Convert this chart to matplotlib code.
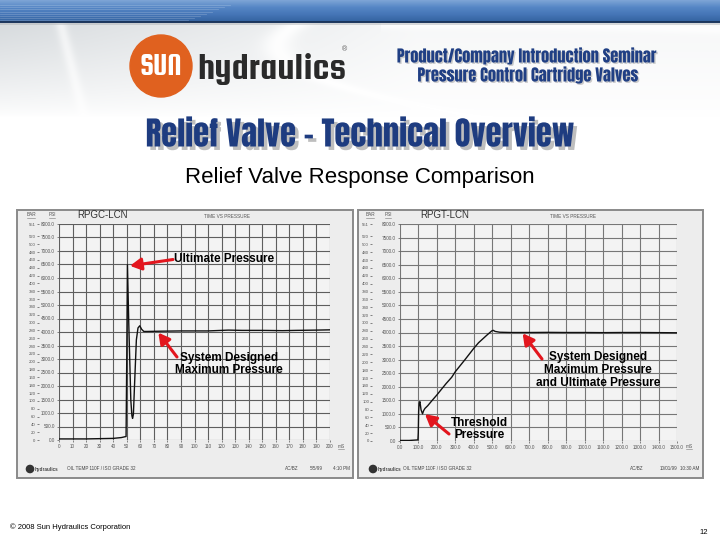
import numpy as np
import matplotlib
matplotlib.use('Agg')
import matplotlib.pyplot as plt
from matplotlib.colors import LinearSegmentedColormap
from matplotlib.patches import Circle, Rectangle
import matplotlib.patheffects as pe

plt.rcParams['font.family'] = ['Liberation Sans', 'DejaVu Sans']

# ---------------- data ----------------
left_time = [0, 20, 40, 46, 49.5, 50.0, 50.5, 51.5, 53.0, 53.8, 54.3, 54.9, 55.8, 57.1, 58.3,
             59.6, 61.0, 62.6, 65, 75, 90, 110, 125, 135, 150, 165, 175, 190, 200]
left_psi = [40, 40, 60, 90, 130, 3000, 6490, 4300, 1480, 900, 800, 950, 2100, 3710, 4150,
            4230, 4100, 4020, 4020, 4030, 4040, 4040, 4070, 4060, 4060, 4050, 4060, 4070, 4080]

right_time = [0, 50, 97, 99, 101, 104, 108, 114, 122, 128, 135, 150, 172, 200, 226, 250, 280, 300,
              352, 400, 425, 470, 497, 505, 515, 540, 600, 700, 800, 900, 1000, 1100, 1200, 1300,
              1400, 1500]
right_psi = [20, 20, 40, 300, 1100, 1400, 1450, 1150, 1000, 1120, 1200, 1300, 1480, 1700, 1920, 2120,
             2350, 2560, 3000, 3420, 3620, 3900, 4060, 4080, 4040, 4010, 4000, 4000, 4005, 4000, 4000,
             3995, 4000, 4000, 3995, 3990]

psi_ticks = list(range(0, 8001, 500))
psi_labels = [f"{v:.1f}" for v in psi_ticks]
bar_ticks = [0, 20, 40, 60, 80, 100, 120, 140, 160, 180, 200, 220, 240, 260, 280, 300, 320, 340,
             360, 380, 400, 420, 440, 460, 480, 500, 520, 551]
bar_labels = [str(b) for b in bar_ticks]
left_xticks = list(range(0, 201, 10))
left_xlabels = [str(v) for v in left_xticks]
right_xticks = list(range(0, 1501, 100))
right_xlabels = [f"{v:.1f}" for v in right_xticks]

PSI_PER_BAR = 14.5038

# ---------------- figure ----------------
fig = plt.figure(figsize=(7.2, 5.4), dpi=100)
bg = fig.add_axes([0, 0, 1, 1], zorder=0)
bg.set_xlim(0, 720)
bg.set_ylim(540, 0)
bg.axis('off')

# soft gray swoosh background at top
H, W = 120, 720
yy, xx = np.mgrid[0:H, 0:W]
alpha = np.clip(1 - (yy - 22) / 95.0, 0, 1) ** 0.8 * np.clip(1 - xx / 520.0, 0.2, 1)
band1 = np.exp(-((xx - (300 - 1.9 * (yy - 22) + 0.04 * (yy - 22) ** 2)) / 16.0) ** 2)
band2 = np.exp(-((xx - (60 + 0.25 * (yy - 22))) / 6.0) ** 2)
band3 = np.exp(-((yy - (24 + 0.00006 * (xx - 420) ** 2)) / 5.0) ** 2) * (xx > 380)
alpha = alpha * (1 - 0.9 * band1) * (1 - 0.6 * band2) * (1 - 0.7 * band3)
rgba = np.zeros((H, W, 4))
rgba[..., 0] = 0.84
rgba[..., 1] = 0.855
rgba[..., 2] = 0.87
rgba[..., 3] = np.clip(alpha, 0, 1)
bg.imshow(rgba, extent=(0, 720, H, 0), aspect='auto', zorder=0.5, interpolation='bilinear')

# blue top bar
cmap_bar = LinearSegmentedColormap.from_list('bar', ['#7ea5d6', '#5586c5', '#4575b6', '#33629f'])
bg.imshow(np.linspace(0, 1, 60).reshape(-1, 1), cmap=cmap_bar, extent=(0, 720, 22, 0),
          aspect='auto', zorder=1)
for i, y in enumerate(np.arange(5, 21, 2.2)):
    bg.plot([0, 230 - i * 6], [y, y], color='white', alpha=0.2, lw=0.6, zorder=1.1)
bg.plot([0, 720], [22.3, 22.3], color='#1b355c', lw=1.4, zorder=1.2)
bg.plot([0, 720], [24, 24], color='#b0b4b8', lw=1.2, alpha=0.6, zorder=1.2)

# logo
bg.add_patch(Circle((161, 66), 31, color='#e0611f', zorder=2))
bg.text(161, 67, 'SUN', color='white', family=['Squada One', 'DejaVu Sans'], fontsize=22,
        ha='center', va='center', zorder=3)
bg.text(197, 79, 'hydraulics', color='#2a2a2a', family=['Squada One', 'DejaVu Sans'], fontsize=27.5,
        ha='left', va='baseline', zorder=3)
bg.text(344, 50, '®', color='#555555', fontsize=5, ha='center', va='center', zorder=3)

# header texts
shadow_small = [pe.SimplePatchShadow(offset=(1, -1), shadow_rgbFace='#9a9a9a', alpha=0.5), pe.Normal()]
bg.text(527, 56, 'Product/Company Introduction Seminar', family=['Anton', 'DejaVu Sans'],
        fontsize=11.8, color='#203f84', ha='center', va='center', path_effects=shadow_small, zorder=3)
bg.text(528, 75, 'Pressure Control Cartridge Valves', family=['Anton', 'DejaVu Sans'],
        fontsize=11.8, color='#203f84', ha='center', va='center', path_effects=shadow_small, zorder=3)

shadow_big = [pe.SimplePatchShadow(offset=(2.5, -2.5), shadow_rgbFace='#8a8a8a', alpha=0.55), pe.Normal()]
bg.text(360, 134, 'Relief Valve – Technical Overview', family=['Anton', 'DejaVu Sans'],
        fontsize=23.5, color='#1e3c80', ha='center', va='center', path_effects=shadow_big, zorder=3)
bg.text(360, 178, 'Relief Valve Response Comparison', fontsize=16, color='black',
        ha='center', va='center', zorder=3)

# footer
bg.text(10, 527, '© 2008 Sun Hydraulics Corporation', fontsize=5.5, color='black', va='center')
bg.text(708, 532, '12', fontsize=5.5, color='black', va='center', ha='right')

# panels
bg.add_patch(Rectangle((17, 210), 336, 268, facecolor='#ededed', edgecolor='#8a8a8a', lw=1.4, zorder=1))
bg.add_patch(Rectangle((358, 210), 345, 268, facecolor='#ededed', edgecolor='#8a8a8a', lw=1.4, zorder=1))


def make_chart(rect, times, psi, xlim, xticks, xlabels, grid_color, bar_loc):
    ax = fig.add_axes(rect, zorder=2)
    ax.set_facecolor('#f3f3f3')
    ax.set_xlim(*xlim)
    ax.set_ylim(0, 8000)
    ax.set_xticks(xticks)
    ax.set_xticklabels(xlabels)
    ax.set_yticks(psi_ticks)
    ax.set_yticklabels(psi_labels)
    ax.grid(True, color=grid_color, lw=0.8)
    for s in ax.spines.values():
        s.set_visible(False)
    ax.tick_params(axis='both', labelsize=3.3, colors='#555555', length=1.5, width=0.5, pad=1.5)
    ax.plot(times, psi, color='#111111', lw=1.0, zorder=3)
    sec = ax.secondary_yaxis(bar_loc, functions=(lambda p: p / PSI_PER_BAR, lambda b: b * PSI_PER_BAR))
    sec.set_yticks(bar_ticks)
    sec.set_yticklabels(bar_labels)
    sec.spines['left'].set_visible(False)
    sec.tick_params(labelsize=3.1, colors='#555555', length=1.5, width=0.5, pad=0.8)
    return ax


ax1 = make_chart([59 / 720, 100 / 540, 271 / 720, 216 / 540], left_time, left_psi, (0, 200),
                 left_xticks, left_xlabels, '#5e5e5e', -0.075)
ax2 = make_chart([400 / 720, 99 / 540, 277 / 720, 217 / 540], right_time, right_psi, (0, 1500),
                 right_xticks, right_xlabels, '#777777', -0.1)

# panel small texts
small = dict(fontsize=3.4, color='#555555', va='center', zorder=3)
for (xb, xp, xt, xtv, xm, title) in [(31, 52, 103, 227, 341, 'RPGC-LCN'), (370, 388, 445, 573, 689, 'RPGT-LCN')]:
    bg.text(xb, 215, 'BAR', ha='center', **small)
    bg.text(xp, 215, 'PSI', ha='center', **small)
    bg.plot([xb - 4, xb + 4], [217.5, 217.5], color='#777777', lw=0.4, zorder=3)
    bg.plot([xp - 3, xp + 3], [217.5, 217.5], color='#777777', lw=0.4, zorder=3)
    bg.text(xt, 215, title, fontsize=7, color='#333333', ha='center', va='center', zorder=3)
    bg.text(xtv, 216, 'TIME VS PRESSURE', ha='center', **small)
    bg.text(xm, 446, 'mS', ha='center', **small)
    bg.plot([xm - 3, xm + 3], [448.5, 448.5], color='#777777', lw=0.4, zorder=3)

foot = dict(fontsize=3.3, color='#444444', va='center', zorder=3)
bg.add_patch(Circle((30, 469), 3.6, color='#333333', zorder=3))
bg.text(34.5, 469, 'hydraulics', fontweight='bold', **foot)
bg.text(67, 469, 'OIL TEMP 110F / ISO GRADE 32', **foot)
bg.text(285, 469, 'AC/BZ', **foot)
bg.text(310, 469, '5/5/99', **foot)
bg.text(333, 469, '4:10 PM', **foot)

bg.add_patch(Circle((373, 469), 3.6, color='#333333', zorder=3))
bg.text(377.5, 469, 'hydraulics', fontweight='bold', **foot)
bg.text(403, 469, 'OIL TEMP 110F / ISO GRADE 32', **foot)
bg.text(630, 469, 'AC/BZ', **foot)
bg.text(660, 469, '10/01/99', **foot)
bg.text(680, 469, '10:30 AM', **foot)

# annotations
arrow = dict(arrowstyle='-|>,head_length=0.55,head_width=0.3', color='#e3161e', lw=2.2,
             shrinkA=0, shrinkB=0, mutation_scale=12)
ann = dict(fontsize=8.5, fontweight='bold', color='black', ha='center', va='center', zorder=5)

ax1.annotate('', xy=(52.4, 6450), xytext=(173, 259.5), textcoords=bg.transData,
             arrowprops=arrow, annotation_clip=False, zorder=5)
ax1.text(224, 258.5, 'Ultimate Pressure', transform=bg.transData, **ann)
ax1.annotate('', xy=(73.3, 3975), xytext=(177, 357), textcoords=bg.transData,
             arrowprops=arrow, annotation_clip=False, zorder=5)
ax1.text(229, 364, 'System Designed\nMaximum Pressure', transform=bg.transData, linespacing=1.1, **ann)

ax2.annotate('', xy=(664, 3970), xytext=(542, 359), textcoords=bg.transData,
             arrowprops=arrow, annotation_clip=False, zorder=5)
ax2.text(598, 370, 'System Designed\nMaximum Pressure\nand Ultimate Pressure', transform=bg.transData,
         linespacing=1.1, **ann)
ax2.annotate('', xy=(135, 990), xytext=(449, 434), textcoords=bg.transData,
             arrowprops=arrow, annotation_clip=False, zorder=5)
ax2.text(479, 429, 'Threshold\nPressure', transform=bg.transData, linespacing=1.1, **ann)

fig.savefig('out.png', dpi=100)
